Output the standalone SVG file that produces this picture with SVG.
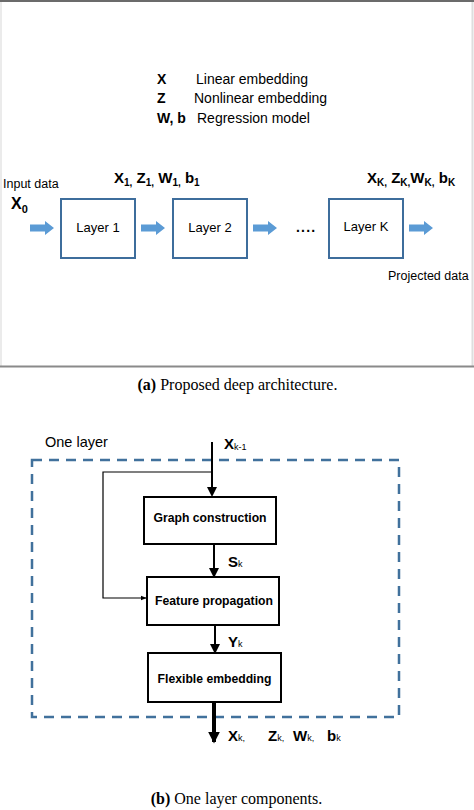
<svg xmlns="http://www.w3.org/2000/svg" width="474" height="810" viewBox="0 0 474 810">
<style>
.sans{font-family:"Liberation Sans",Arial,sans-serif;fill:#000}
.serif{font-family:"Liberation Serif","Times New Roman",serif;fill:#000}
.b{font-weight:bold}
.layer{fill:#fff;stroke:#3e6d9c;stroke-width:2}
.blk{fill:#fff;stroke:#000;stroke-width:2}
.barrow{fill:#5b9bd5}
.conn{fill:none;stroke:#000;stroke-width:2}
</style>
<defs>
<path id="blockArrow" d="M0,-3.5 H15 V-7 L24,0 L15,7 V3.5 H0 Z"/>
<marker id="ah" markerWidth="5" markerHeight="5" refX="4" refY="2.5" orient="auto" markerUnits="strokeWidth"><path d="M0,0 L5,2.5 L0,5 Z" fill="#000"/></marker>
<marker id="ahs" markerWidth="6" markerHeight="6" refX="5.5" refY="3" orient="auto" markerUnits="userSpaceOnUse"><path d="M0,0.5 L6,3 L0,5.5 Z" fill="#000"/></marker>
<marker id="ahb" markerWidth="3" markerHeight="3" refX="2.6" refY="1.5" orient="auto" markerUnits="strokeWidth"><path d="M0,0 L3,1.5 L0,3 Z" fill="#000"/></marker>
</defs>
<rect width="474" height="810" fill="#fff"/>
<!-- frame of panel (a) -->
<g id="frame">
<line x1="0" y1="1" x2="474" y2="1" stroke="#6b6b6b" stroke-width="2"/>
<line x1="1" y1="2" x2="1" y2="366" stroke="#e4e4e4" stroke-width="1.5"/>
<line x1="472.5" y1="2" x2="472.5" y2="366" stroke="#dedede" stroke-width="2"/>
<line x1="0" y1="366.5" x2="474" y2="366.5" stroke="#8a8a8a" stroke-width="2"/>
</g>
<g id="legend" class="sans" font-size="14">
<text x="157" y="84" class="b">X</text><text x="196" y="84">Linear embedding</text>
<text x="157" y="103" class="b">Z</text><text x="194" y="103">Nonlinear embedding</text>
<text x="157" y="123" class="b">W, b</text><text x="197" y="123">Regression model</text>
</g>
<g id="input" class="sans">
<text x="3" y="188" font-size="12.5">Input data</text>
<text x="11" y="209" font-size="16" class="b">X<tspan font-size="11" dy="4">0</tspan></text>
</g>
<g id="layer1">
<rect class="layer" x="61" y="199" width="74" height="59"/>
<text class="sans" x="98" y="232" font-size="13" text-anchor="middle">Layer 1</text>
</g>
<g id="layer2">
<rect class="layer" x="173" y="199" width="74" height="59"/>
<text class="sans" x="210" y="232" font-size="13" text-anchor="middle">Layer 2</text>
</g>
<g id="layerK">
<rect class="layer" x="329" y="199" width="74" height="59"/>
<text class="sans" x="366" y="231" font-size="13" text-anchor="middle">Layer K</text>
</g>
<g id="params1" class="sans b" font-size="15">
<text x="114" y="183">X<tspan font-size="10" dy="3">1,</tspan><tspan dy="-3"> Z</tspan><tspan font-size="10" dy="3">1,</tspan><tspan dy="-3"> W</tspan><tspan font-size="10" dy="3">1,</tspan><tspan dy="-3"> b</tspan><tspan font-size="10" dy="3">1</tspan></text>
</g>
<g id="paramsK" class="sans b" font-size="15">
<text x="367" y="183">X<tspan font-size="10" dy="3">K,</tspan><tspan dy="-3"> Z</tspan><tspan font-size="10" dy="3">K,</tspan><tspan dy="-3">W</tspan><tspan font-size="10" dy="3">K,</tspan><tspan dy="-3"> b</tspan><tspan font-size="10" dy="3">K</tspan></text>
</g>
<g id="dots"><text class="sans b" x="296" y="232" font-size="14" letter-spacing="1.2">....</text></g>
<g id="output" class="sans"><text x="388" y="280" font-size="12.5">Projected data</text></g>
<g id="flow-arrows">
<use href="#blockArrow" class="barrow" transform="translate(30,228)"/>
<use href="#blockArrow" class="barrow" transform="translate(141,228)"/>
<use href="#blockArrow" class="barrow" transform="translate(253,228)"/>
<use href="#blockArrow" class="barrow" transform="translate(409,228)"/>
</g>
<g id="caption-a"><text class="serif" x="237.5" y="390" font-size="16" text-anchor="middle"><tspan font-weight="bold">(a)</tspan> Proposed deep architecture.</text></g>

<!-- panel (b) -->
<g id="one-layer">
<rect x="32" y="460" width="367" height="257" fill="none" stroke="#41719c" stroke-width="2.5" stroke-dasharray="10 7"/>
<text class="sans" x="45" y="447" font-size="14.5">One layer</text>
</g>
<g id="graph-construction">
<rect class="blk" x="144" y="497" width="132" height="47"/>
<text class="sans b" x="210" y="522" font-size="12.2" text-anchor="middle">Graph construction</text>
</g>
<g id="feature-propagation">
<rect class="blk" x="147" y="577" width="132" height="48"/>
<text class="sans b" x="214" y="605" font-size="12.2" text-anchor="middle">Feature propagation</text>
</g>
<g id="flexible-embedding">
<rect class="blk" x="148" y="653" width="133" height="49"/>
<text class="sans b" x="214.5" y="683" font-size="12.2" text-anchor="middle">Flexible embedding</text>
</g>
<g id="connectors">
<line class="conn" x1="212" y1="442" x2="212" y2="495" marker-end="url(#ah)"/>
<polyline fill="none" stroke="#000" stroke-width="1.2" points="212,472 103,472 103,598 146,598" marker-end="url(#ahs)"/>
<line class="conn" x1="214" y1="545" x2="214" y2="576" marker-end="url(#ah)"/>
<line class="conn" x1="215" y1="626" x2="215" y2="652" marker-end="url(#ah)"/>
<line x1="214" y1="703" x2="214" y2="742" stroke="#000" stroke-width="4" marker-end="url(#ahb)"/>
</g>
<g id="labels-b" class="sans">
<text x="224" y="449" font-size="15" class="b">X<tspan font-size="9" font-weight="normal" dy="1">k-1</tspan></text>
<text x="228" y="567" font-size="15" class="b">S<tspan font-size="9" font-weight="normal">k</tspan></text>
<text x="228" y="647" font-size="15" class="b">Y<tspan font-size="9" font-weight="normal">k</tspan></text>
<text x="228" y="741" font-size="15" class="b">X<tspan font-size="9" font-weight="normal">k,</tspan></text>
<text x="268" y="741" font-size="15" class="b">Z<tspan font-size="9" font-weight="normal">k,</tspan></text>
<text x="293" y="741" font-size="15" class="b">W<tspan font-size="9" font-weight="normal">k,</tspan></text>
<text x="327" y="741" font-size="15" class="b">b<tspan font-size="9" font-weight="normal">k</tspan></text>
</g>
<g id="caption-b"><text class="serif" x="236.5" y="804" font-size="16" text-anchor="middle"><tspan font-weight="bold">(b)</tspan> One layer components.</text></g>
</svg>
